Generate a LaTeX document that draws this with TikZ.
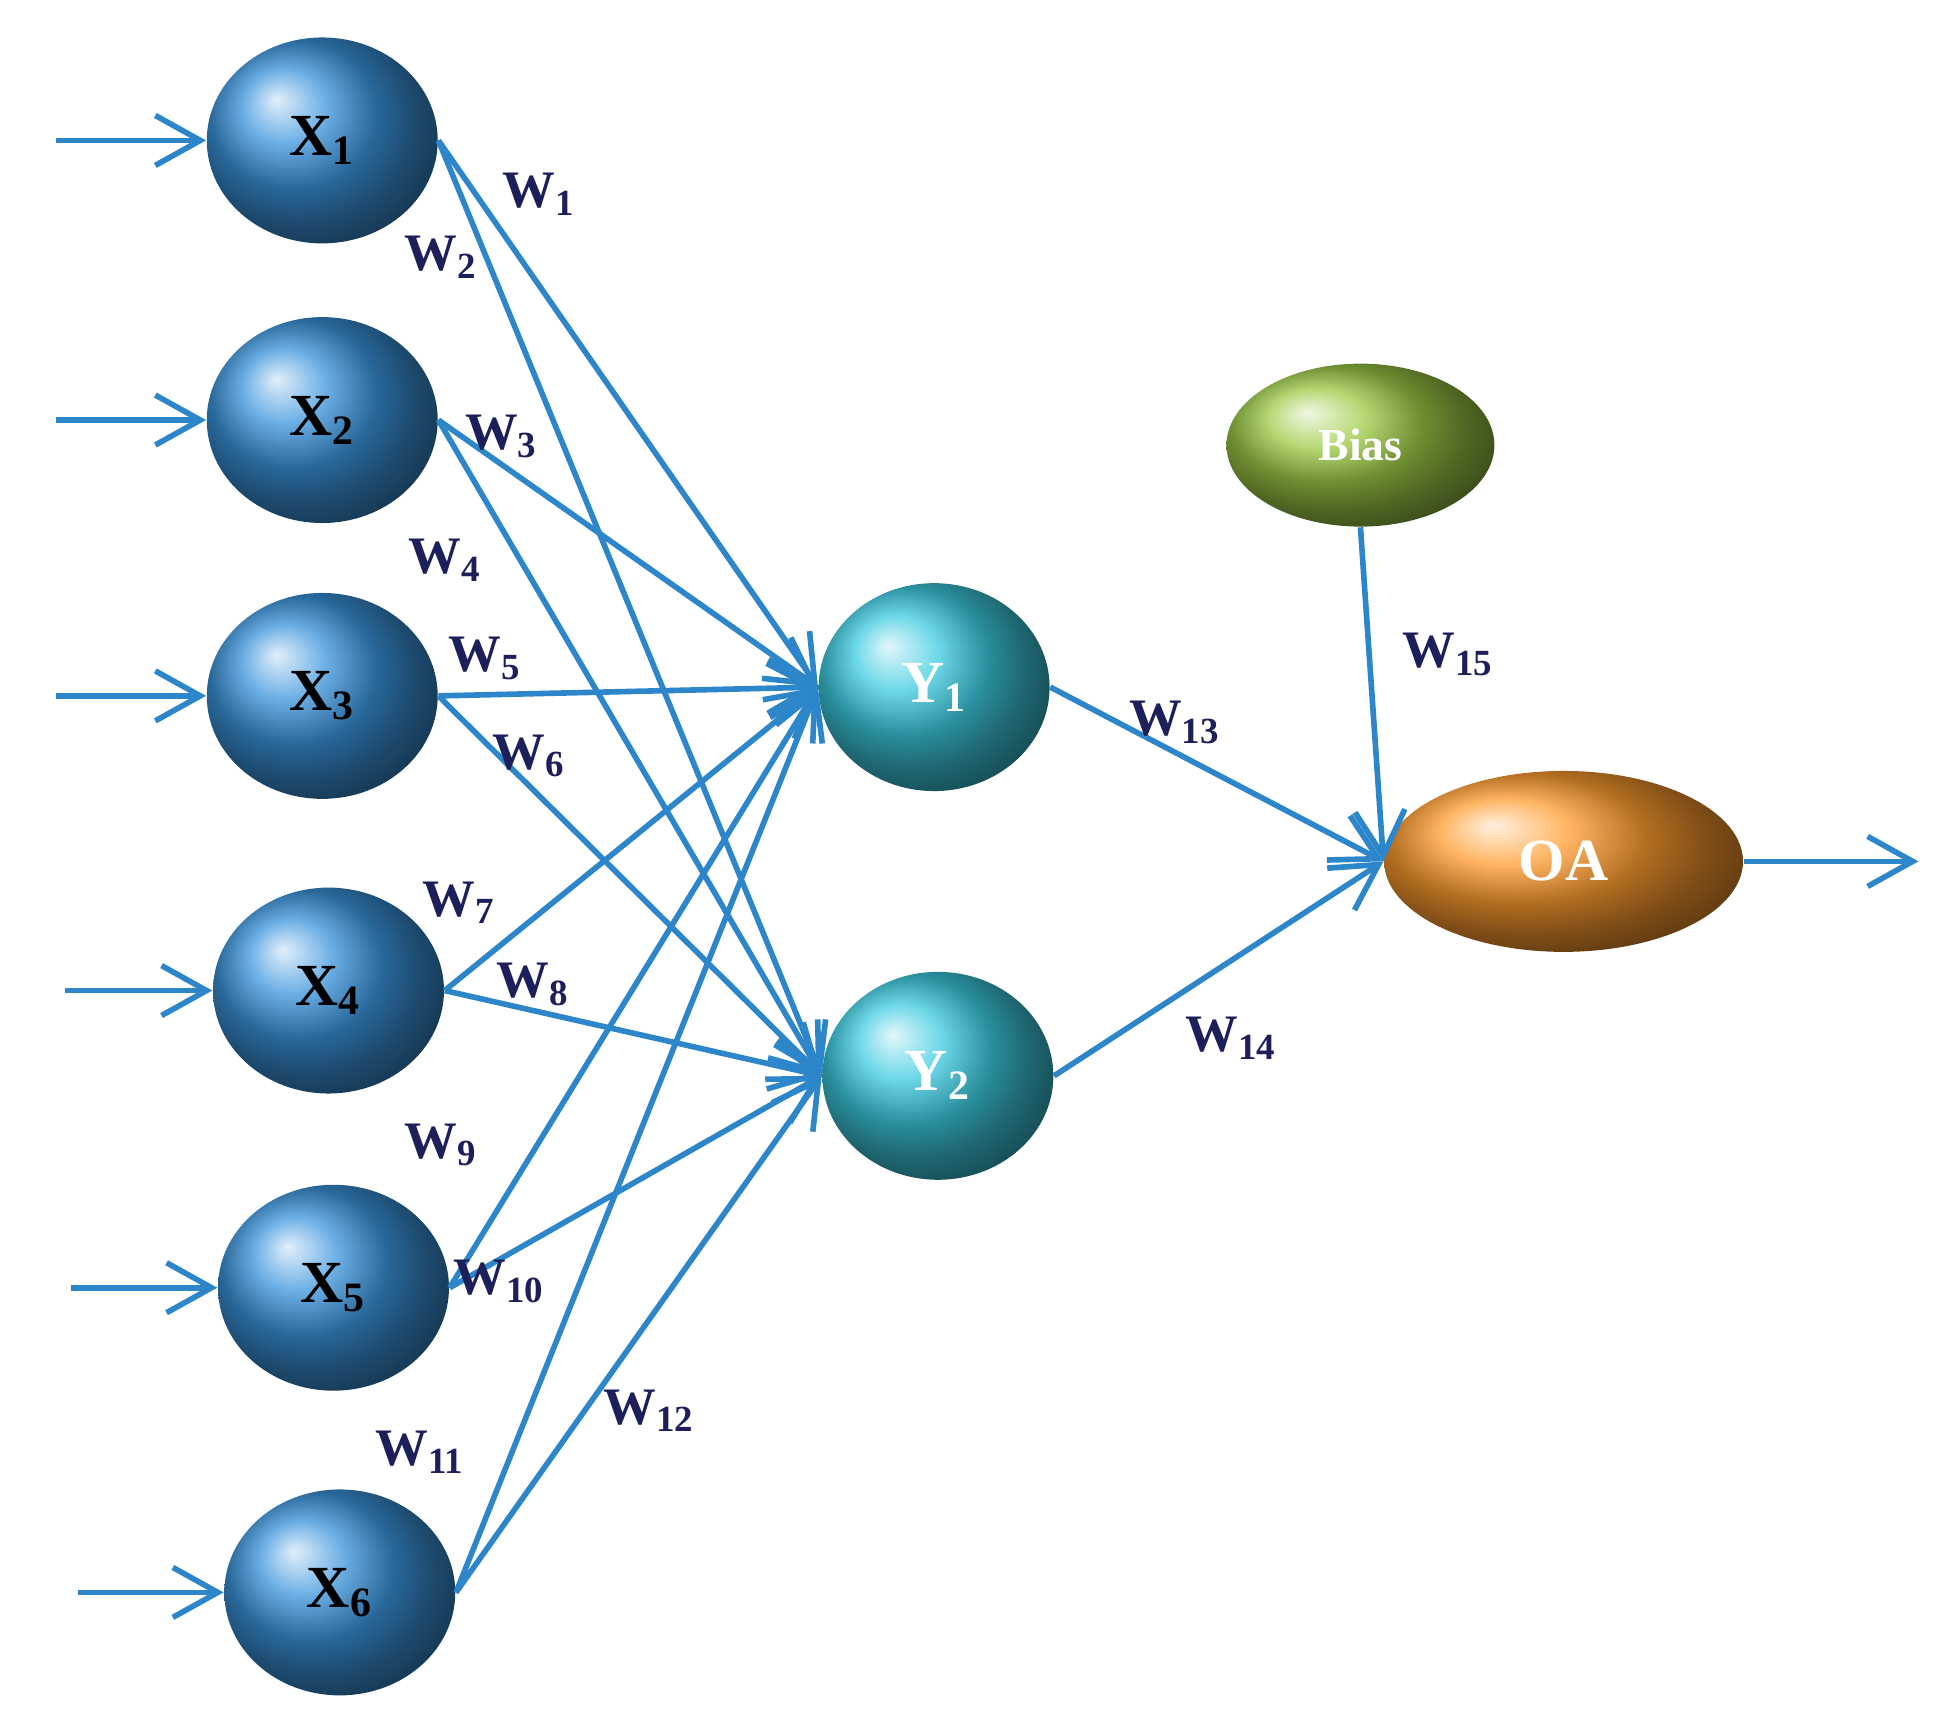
\documentclass[tikz,border=0pt]{standalone}
\usepackage{fontspec}
\setmainfont{Liberation Serif}
\usetikzlibrary{shapes.geometric, arrows.meta, positioning}
\definecolor{inblue}{HTML}{3A94DC}
\definecolor{hidcyan}{HTML}{3CCBE0}
\definecolor{biasgreen}{HTML}{9CCB45}
\definecolor{outorange}{HTML}{FF9C2E}
\definecolor{wire}{HTML}{2C86C9}
\definecolor{wtext}{HTML}{1C1F5A}
\tikzset{
  neuron/.style={ellipse, draw=none, shading=ball, font=\bfseries\fontsize{17}{17}\selectfont},
  inp/.style={neuron, ball color=inblue, minimum width=2.31cm, minimum height=2.06cm, text=black},
  hid/.style={neuron, ball color=hidcyan, minimum width=2.31cm, minimum height=2.08cm, text=white},
  wire/.style={draw=wire, line width=1.6pt, -{Straight Barb[length=4.5mm,width=5mm]}},
  wlab/.style={text=wtext, font=\bfseries\fontsize{15}{15}\selectfont}
}
\begin{document}
\begin{tikzpicture}[x=0.01254cm, y=-0.01254cm]
  \useasboundingbox (0,0) rectangle (1552,1383);
  % input layer
  \node[inp] (x1) at (257,112)  {X\textsubscript{1}};
  \node[inp] (x2) at (257,335)  {X\textsubscript{2}};
  \node[inp] (x3) at (257,555)  {X\textsubscript{3}};
  \node[inp] (x4) at (262,790)  {X\textsubscript{4}};
  \node[inp] (x5) at (266,1027) {X\textsubscript{5}};
  \node[inp] (x6) at (271,1270) {X\textsubscript{6}};
  % hidden layer and output
  \node[hid] (y1) at (745,548) {Y\textsubscript{1}};
  \node[hid] (y2) at (748,858) {Y\textsubscript{2}};
  \node[neuron, ball color=biasgreen, text=white, minimum width=2.68cm, minimum height=1.63cm,
        font=\bfseries\fontsize{13}{13}\selectfont] (bias) at (1085,355) {Bias};
  \node[neuron, ball color=outorange, text=white, minimum width=3.59cm, minimum height=1.81cm] (oa) at (1247,687) {OA};
  % free ends
  \coordinate (in1) at (45,112);
  \coordinate (in2) at (45,335);
  \coordinate (in3) at (45,555);
  \coordinate (in4) at (52,790);
  \coordinate (in5) at (57,1027);
  \coordinate (in6) at (62,1270);
  \coordinate (out) at (1530,687);
  \foreach \i in {1,...,6}
    \draw[wire] (in\i) -- (x\i.west);
  \draw[wire] (oa.east) -- (out);
  % weights
  \draw[wire] (x1.east) -- (y1.west);
  \draw[wire] (x1.east) -- (y2.west);
  \draw[wire] (x2.east) -- (y1.west);
  \draw[wire] (x2.east) -- (y2.west);
  \draw[wire] (x3.east) -- (y1.west);
  \draw[wire] (x3.east) -- (y2.west);
  \draw[wire] (x4.east) -- (y1.west);
  \draw[wire] (x4.east) -- (y2.west);
  \draw[wire] (x5.east) -- (y1.west);
  \draw[wire] (x5.east) -- (y2.west);
  \draw[wire] (x6.east) -- (y1.west);
  \draw[wire] (x6.east) -- (y2.west);
  \draw[wire] (y1.east) -- (oa.west);
  \draw[wire] (y2.east) -- (oa.west);
  \draw[wire] (bias.south) -- (oa.west);
  % labels
  \node[wlab] at (430,155)  {W\textsubscript{1}};
  \node[wlab] at (352,205)  {W\textsubscript{2}};
  \node[wlab] at (400,348)  {W\textsubscript{3}};
  \node[wlab] at (355,447)  {W\textsubscript{4}};
  \node[wlab] at (387,525)  {W\textsubscript{5}};
  \node[wlab] at (422,603)  {W\textsubscript{6}};
  \node[wlab] at (366,720)  {W\textsubscript{7}};
  \node[wlab] at (425,785)  {W\textsubscript{8}};
  \node[wlab] at (352,913)  {W\textsubscript{9}};
  \node[wlab] at (398,1022) {W\textsubscript{10}};
  \node[wlab] at (335,1158) {W\textsubscript{11}};
  \node[wlab] at (518,1125) {W\textsubscript{12}};
  \node[wlab] at (937,576)  {W\textsubscript{13}};
  \node[wlab] at (982,828)  {W\textsubscript{14}};
  \node[wlab] at (1155,522) {W\textsubscript{15}};
\end{tikzpicture}
\end{document}
